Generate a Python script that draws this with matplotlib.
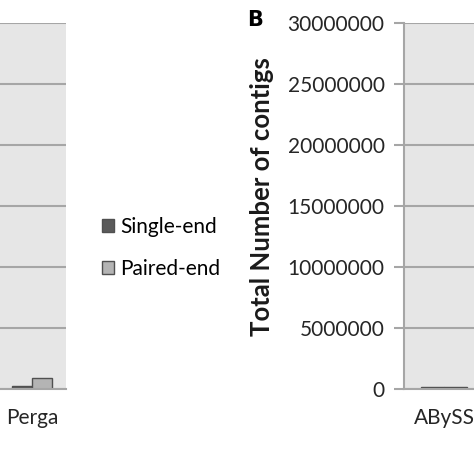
import matplotlib.pyplot as plt
import numpy as np

# values (total number of contigs)
series_names = ['Single-end', 'Paired-end']
left_cats = ['Perga']
left_single = [250000]
left_paired = [900000]
right_cats = ['ABySS']
right_single = [180000]
right_paired = [150000]
yticks = [0, 5000000, 10000000, 15000000, 20000000, 25000000, 30000000]

plt.rcParams['font.family'] = ['Lato', 'DejaVu Sans']

W = 474.0
fig = plt.figure(figsize=(4.74, 4.74), dpi=100)

bg = '#e6e6e6'
gridc = '#a6a6a6'
single_c = '#5a5a5a'
paired_c = '#b4b4b4'
edge_c = '#505050'
txt_c = '#262626'
bw = 0.29


def style(ax):
    ax.set_facecolor(bg)
    ax.set_ylim(0, 30000000)
    ax.set_yticks(yticks)
    ax.grid(axis='y', color=gridc, linewidth=1.5)
    ax.set_axisbelow(True)
    for s in ['top', 'right', 'left']:
        ax.spines[s].set_visible(False)
    ax.spines['bottom'].set_color(gridc)
    ax.spines['bottom'].set_linewidth(1.5)
    ax.tick_params(axis='x', length=0, labelsize=15, pad=14, colors=txt_c)


bottom = (W - 389) / W
height = 366 / W

# left panel (cut off by the crop)
ax1 = fig.add_axes([-2 / W, bottom, 68 / W, height])
style(ax1)
x = np.arange(len(left_cats))
b1 = ax1.bar(x - bw / 2, left_single, bw, color=single_c, edgecolor=edge_c, linewidth=1)
b2 = ax1.bar(x + bw / 2, left_paired, bw, color=paired_c, edgecolor=edge_c, linewidth=1)
ax1.set_xlim(-0.5, 0.5)
ax1.set_xticks(x)
ax1.set_xticklabels(left_cats)
ax1.tick_params(axis='y', length=0, labelleft=False)

# right panel
ax2 = fig.add_axes([404 / W, bottom, 80 / W, height])
style(ax2)
x = np.arange(len(right_cats))
ax2.bar(x - bw / 2, right_single, bw, color=single_c, edgecolor=edge_c, linewidth=1)
ax2.bar(x + bw / 2, right_paired, bw, color=paired_c, edgecolor=edge_c, linewidth=1)
ax2.set_xlim(-0.5, 0.5)
ax2.set_xticks(x)
ax2.set_xticklabels(right_cats)
ax2.spines['left'].set_visible(True)
ax2.spines['left'].set_color(gridc)
ax2.spines['left'].set_linewidth(1.5)
ax2.tick_params(axis='y', length=7, width=1.5, color=gridc, labelsize=15, pad=7,
                labelcolor=txt_c)
ax2.set_yticklabels([str(v) for v in yticks])
ax2.set_ylabel('Total Number of contigs', fontsize=18.5, fontweight='bold',
               color='#1a1a1a', va='center')
ax2.yaxis.set_label_coords(-142 / 80, 192 / 366)

fig.text(247 / W, 1 - 26 / W, 'B', fontsize=15, fontweight='bold',
         family=['DejaVu Sans'])

fig.legend([b1, b2], series_names, loc='center left',
           bbox_to_anchor=(83 / W, 1 - 248 / W), frameon=False, fontsize=15,
           handlelength=0.6, handleheight=0.6, handletextpad=0.3, labelspacing=1.05)

fig.savefig('out.png', dpi=100)
